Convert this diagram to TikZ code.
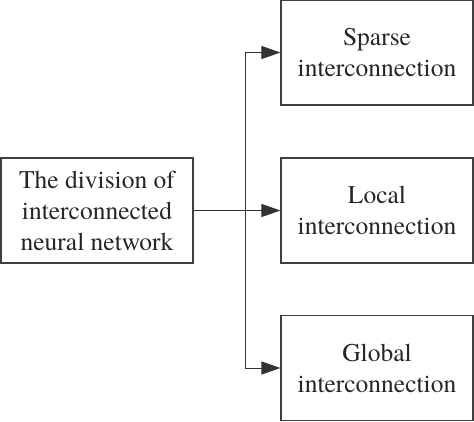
\documentclass[tikz,border=0pt]{standalone}
\usepackage{fontspec}
\setmainfont{TeX Gyre Termes}
\usetikzlibrary{arrows.meta}
\begin{document}
\begin{tikzpicture}[x=1pt,y=-1pt,
  box/.style={draw=black!75, line width=1.1pt, minimum width=192pt, minimum height=105pt, inner sep=0pt, align=center,
    font=\fontsize{25.5}{31}\selectfont, text=black!85},
  conn/.style={draw=black!80, line width=0.9pt, -{Triangle[length=19pt,width=13pt]}}]
\useasboundingbox (0,0) rectangle (474,421);
\node[box] (left) at (97,210.5) {The division of\\interconnected\\neural network};
\node[box] (top) at (377,52.5) {Sparse\\interconnection};
\node[box] (mid) at (377,210.5) {Local\\interconnection};
\node[box] (bot) at (377,368) {Global\\interconnection};
\coordinate (j) at (245,210.5);
\draw[conn] (left.east) -- (mid.west);
\draw[conn] (j) |- (top.west);
\draw[conn] (j) |- (bot.west);
\end{tikzpicture}
\end{document}
